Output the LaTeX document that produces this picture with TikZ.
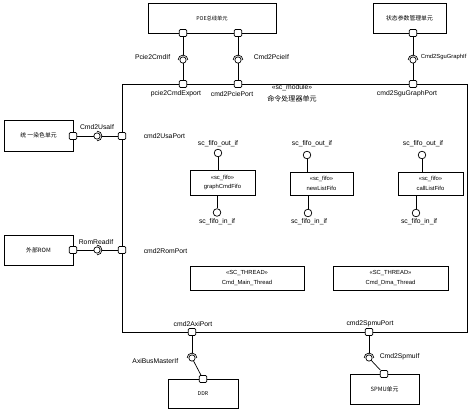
\documentclass[tikz,border=0pt]{standalone}
\usepackage{fontspec}
\setmainfont{Liberation Sans}
\newfontfamily\cjk{Noto Sans CJK SC}
\usepackage{tikz}
\usetikzlibrary{calc}

\tikzset{
  unit/.style={draw, line width=0.8pt, font=\cjk\fontsize{5}{6}\selectfont, minimum height=0.9cm, inner sep=1pt},
  port/.style={draw, fill=white, line width=0.6pt, rounded corners=1pt, minimum width=6.5pt, minimum height=6pt, inner sep=0pt},
  lbl/.style={font=\fontsize{5.8}{7}\selectfont, inner sep=0.5pt},
  inbox/.style={draw, line width=0.8pt, align=center, font=\fontsize{5}{8}\selectfont},
  link/.style={line width=0.6pt},
  ball/.style={draw, circle, fill=white, line width=0.6pt, minimum size=6.5pt, inner sep=0pt},
  ballsock/.pic={
    \draw[line width=0.6pt, fill=white] (0,0) circle (2.7pt);
    \draw[line width=0.6pt] (-4.2pt,0pt) arc[start angle=180, end angle=0, radius=4.2pt];
  }
}

\begin{document}
\begin{tikzpicture}[x=0.03cm, y=-0.03cm]
  \useasboundingbox (0,0) rectangle (474,413);
  % outer units
  \node[unit, font=\cjk\fontsize{4.5}{6}\selectfont, minimum width=3.84cm] (poe) at (212,18) {POE总线单元};
  \node[unit, minimum width=2.19cm] (sgu) at (409.5,18) {状态参数管理单元};
  \node[unit, minimum width=2.07cm, minimum height=0.93cm] (usa) at (38.5,135.5) {统 一染色单元};
  \node[unit, minimum width=2.07cm] (rom) at (38.5,250) {外部ROM};
  \node[unit, font=\cjk\fontsize{4.5}{6}\selectfont, minimum width=2.1cm, minimum height=0.87cm] (ddr) at (203,393.5) {DDR};
  \node[unit, minimum width=2.07cm] (spmu) at (384.5,389) {SPMU单元};
  % module
  \node[draw, line width=0.8pt, minimum width=10.35cm, minimum height=7.44cm] (mod) at (294.5,208) {};
  \node[lbl] (modst) at (292,88) {«sc\_module»};
  \node[lbl, font=\cjk\fontsize{6}{7}\selectfont] (modname) at (292,98.5) {命令处理器单元};
  % fifos
  \node[inbox, minimum width=1.95cm, minimum height=0.75cm] (fGraph) at (222.5,182.5) {«sc\_fifo»\\graphCmdFifo};
  \node[inbox, minimum width=1.89cm, minimum height=0.69cm] (fNew) at (321.5,183.5) {«sc\_fifo»\\newListFifo};
  \node[inbox, minimum width=1.95cm, minimum height=0.69cm] (fCall) at (430.5,183.5) {«sc\_fifo»\\callListFifo};
  \node[ball] (fGraphOut) at (218,153) {};
  \node[ball] (fGraphIn) at (217,212.5) {};
  \node[ball] (fNewOut) at (307,155) {};
  \node[ball] (fNewIn) at (308,213) {};
  \node[ball] (fCallOut) at (422,155) {};
  \node[ball] (fCallIn) at (416,213) {};
  \draw[link] (fGraphOut) -- (fGraphOut |- fGraph.north);
  \draw[link] (fGraphIn) -- (fGraphIn |- fGraph.south);
  \draw[link] (fNewOut) -- (fNewOut |- fNew.north);
  \draw[link] (fNewIn) -- (fNewIn |- fNew.south);
  \draw[link] (fCallOut) -- (fCallOut |- fCall.north);
  \draw[link] (fCallIn) -- (fCallIn |- fCall.south);
  \node[lbl] (fGraphOutL) at (218,144) {sc\_fifo\_out\_if};
  \node[lbl] (fGraphInL) at (217,221.5) {sc\_fifo\_in\_if};
  \node[lbl] (fNewOutL) at (312,143.5) {sc\_fifo\_out\_if};
  \node[lbl] (fNewInL) at (309,221.5) {sc\_fifo\_in\_if};
  \node[lbl] (fCallOutL) at (423,143.5) {sc\_fifo\_out\_if};
  \node[lbl] (fCallInL) at (419,221.5) {sc\_fifo\_in\_if};
  % threads
  \node[inbox, minimum width=3.42cm, minimum height=0.72cm] (tMain) at (247,278) {«SC\_THREAD»\\Cmd\_Main\_Thread};
  \node[inbox, minimum width=3.45cm, minimum height=0.72cm] (tDma) at (390.5,278) {«SC\_THREAD»\\Cmd\_Dma\_Thread};
  % ports
  \node[port] (pPoeA) at (183,33) {};
  \node[port] (pPoeB) at (238,33) {};
  \node[port] (pSgu) at (413,33) {};
  \node[port] (pUsa) at (73,136) {};
  \node[port] (pRom) at (73,250) {};
  \node[port] (pDdr) at (203,379) {};
  \node[port] (pSpmu) at (384,374) {};
  \node[port] (mPcieA) at (183,84) {};
  \node[port] (mPcieB) at (238,84) {};
  \node[port] (mSgu) at (413,84) {};
  \node[port] (mUsa) at (122,136) {};
  \node[port] (mRom) at (122,250) {};
  \node[port] (mAxi) at (192,332) {};
  \node[port] (mSpmu) at (369,332) {};
  % port labels
  \node[lbl] (mPcieAL) at (176,94) {pcie2CmdExport};
  \node[lbl] (mPcieBL) at (232,94) {cmd2PciePort};
  \node[lbl] (mSguL) at (407,94) {cmd2SguGraphPort};
  \node[lbl, anchor=west] (mUsaL) at (143,136) {cmd2UsaPort};
  \node[lbl, anchor=west] (mRomL) at (143,251) {cmd2RomPort};
  \node[lbl] (mAxiL) at (193,324) {cmd2AxiPort};
  \node[lbl] (mSpmuL) at (370,324) {cmd2SpmuPort};
  % interfaces
  \coordinate (sPcieA) at (183,60);
  \coordinate (sPcieB) at (238,60);
  \coordinate (sSgu) at (413,60);
  \coordinate (sUsa) at (97,136);
  \coordinate (sRom) at (97,250);
  \coordinate (sAxi) at (192,358);
  \coordinate (sSpmu) at (369,358);
  \draw[link, shorten >=4.2pt] (pPoeA) -- (sPcieA);
  \draw[link, shorten <=2.7pt] (sPcieA) -- (mPcieA);
  \draw[link, shorten >=4.2pt] (pPoeB) -- (sPcieB);
  \draw[link, shorten <=2.7pt] (sPcieB) -- (mPcieB);
  \draw[link, shorten >=4.2pt] (pSgu) -- (sSgu);
  \draw[link, shorten <=2.7pt] (sSgu) -- (mSgu);
  \draw[link, shorten >=4.2pt] (mUsa) -- (sUsa);
  \draw[link, shorten <=2.7pt] (sUsa) -- (pUsa);
  \draw[link, shorten >=4.2pt] (mRom) -- (sRom);
  \draw[link, shorten <=2.7pt] (sRom) -- (pRom);
  \draw[link, shorten >=4.2pt] (mAxi) -- (sAxi);
  \draw[link, shorten <=2.7pt] (sAxi) -- (pDdr);
  \draw[link, shorten >=4.2pt] (mSpmu) -- (sSpmu);
  \draw[link, shorten <=2.7pt] (sSpmu) -- (pSpmu);
  \pic at (sPcieA) {ballsock};
  \pic at (sPcieB) {ballsock};
  \pic at (sSgu) {ballsock};
  \pic[rotate=-90] at (sUsa) {ballsock};
  \pic[rotate=-90] at (sRom) {ballsock};
  \pic at (sAxi) {ballsock};
  \pic at (sSpmu) {ballsock};
  \node[lbl, anchor=east] (sPcieAL) at (171,57) {Pcie2CmdIf};
  \node[lbl, anchor=west] (sPcieBL) at (253,57) {Cmd2PcieIf};
  \node[lbl, anchor=west, font=\fontsize{5}{6}\selectfont] (sSguL) at (420,57) {Cmd2SguGraphIf};
  \node[lbl] (sUsaL) at (97,127) {Cmd2UsaIf};
  \node[lbl] (sRomL) at (96,242) {RomReadIf};
  \node[lbl, anchor=east] (sAxiL) at (179,361) {AxiBusMasterIf};
  \node[lbl, anchor=west] (sSpmuL) at (379,357) {Cmd2SpmuIf};
\end{tikzpicture}
\end{document}
